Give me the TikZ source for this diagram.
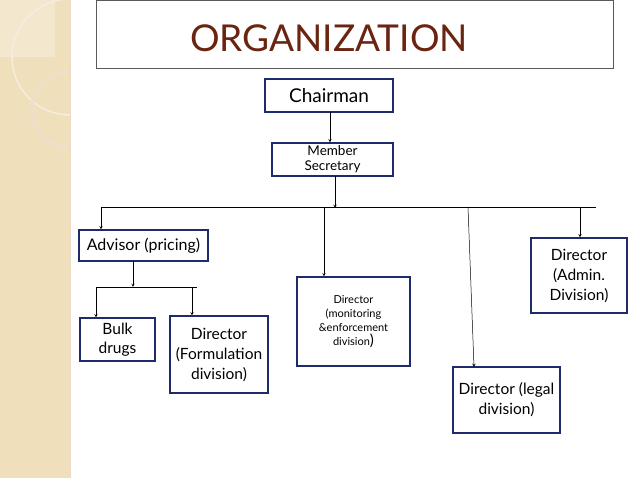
\documentclass[tikz,border=0pt]{standalone}
\usepackage{fontspec}
\setmainfont{Lato}
\definecolor{strip}{HTML}{EFDFBA}
\definecolor{ttl}{HTML}{6A2410}
\definecolor{bx}{HTML}{1F2A6B}
\begin{document}
\begin{tikzpicture}[x=1pt,y=-1pt,
 box/.style={draw=bx,line width=1.1pt,fill=white,align=center,inner sep=0pt},
 arr/.style={->,>=stealth,line width=0.5pt}]
\useasboundingbox (0,0) rectangle (638,478);
\fill[white] (0,0) rectangle (638,478);
\fill[strip] (0,0) rectangle (70,478);
\begin{scope}
\clip (0,0) rectangle (70,478);
\fill[white,opacity=0.3] (0,0) rectangle (55,57);
\draw[white!85!brown,line width=1.5pt] (70,57) circle (58);
\draw[brown!25,line width=4pt,opacity=0.7] (70,110) circle (38);
\end{scope}
\draw[brown!30,line width=1pt] (70,0) -- (70,478);
\draw[gray!70!black,line width=0.8pt] (96,0) rectangle (613,68);
\node[text=ttl,font=\fontsize{37}{40}\selectfont] (title) at (329,38) {ORGANIZATION};
\node[box,minimum width=128,minimum height=33,font=\fontsize{19}{21}\selectfont] (ch) at (329,95.5) {Chairman};
\node[box,minimum width=121,minimum height=33,font=\fontsize{13.5}{15}\selectfont] (ms) at (332.5,159.5) {Member\\Secretary};
\node[box,minimum width=129,minimum height=31,font=\fontsize{16}{18}\selectfont] (adv) at (143.5,245.5) {Advisor (pricing)};
\node[box,minimum width=113,minimum height=89,font=\fontsize{11}{14}\selectfont] (mon) at (353.5,321.5) {Director\\(monitoring\\\&enforcement\\division\fontsize{15}{15}\selectfont)};
\node[box,minimum width=96,minimum height=75,font=\fontsize{15.5}{20}\selectfont] (adm) at (579,275.5) {Director\\(Admin.\\Division)};
\node[box,minimum width=107,minimum height=66,font=\fontsize{15.5}{20}\selectfont] (leg) at (506.5,400) {Director (legal\\division)};
\node[box,minimum width=75,minimum height=43,font=\fontsize{15.5}{19}\selectfont] (bulk) at (117.5,339.5) {Bulk\\drugs};
\node[box,minimum width=98,minimum height=77,font=\fontsize{15.5}{20}\selectfont] (form) at (219,354.5) {Director\\(Formulation\\division)};
\draw[arr] (330,112) -- (ms.north -| 330,0);
\coordinate (b0) at (101,207); \coordinate (b1) at (596,207);
\draw[line width=0.6pt] (b0) -- (b1);
\draw[arr] (335,176) -- (335,208);
\draw[arr] (b0) -- (adv.north -| b0);
\draw[arr] (324,207) -- (mon.north -| 324,0);
\draw[arr] (468,207) -- (474,367);
\draw[arr] (580,207) -- (adm.north -| 580,0);
\coordinate (c0) at (96,287); \coordinate (c1) at (197,287);
\draw[arr] (133,261) -- (133,287);
\draw[line width=0.6pt] (c0) -- (c1);
\draw[arr] (c0) -- (bulk.north -| c0);
\draw[arr] (192,287) -- (form.north -| 192,0);
\end{tikzpicture}
\end{document}
